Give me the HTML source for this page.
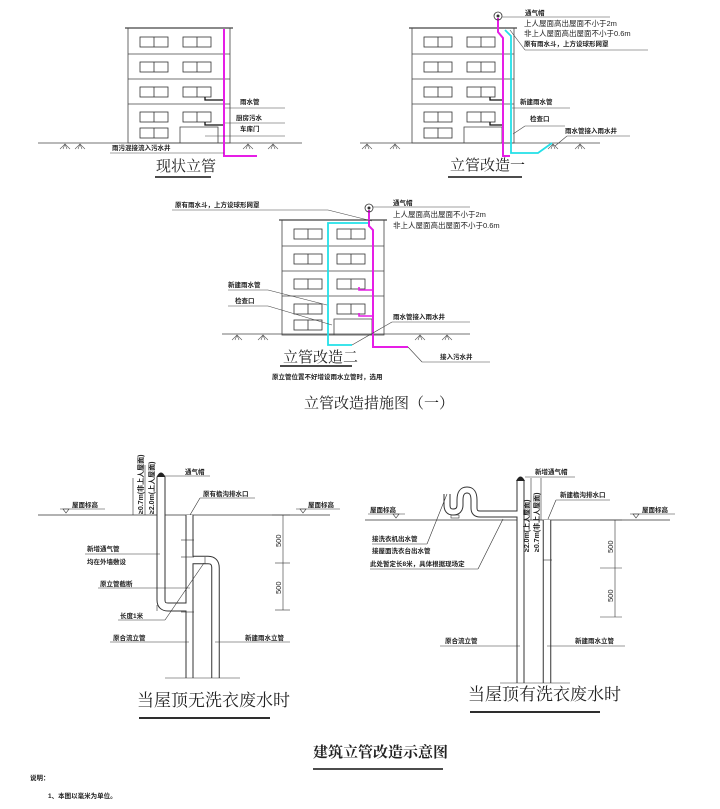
<!DOCTYPE html>
<html><head><meta charset="utf-8"><style>
body{margin:0;background:#fff}
svg{display:block}
text{font-family:"Liberation Sans","Noto Sans CJK SC",sans-serif;fill:#222}
.s{font-size:6.5px;font-weight:bold}
.m{font-size:7.5px}
.t{font-family:"Liberation Serif","Noto Serif CJK SC",serif;font-size:15px}
</style></head><body>
<svg width="720" height="809" viewBox="0 0 720 809" xmlns="http://www.w3.org/2000/svg">
<defs>
<g id="win"><rect x="0" y="0" width="28" height="10" fill="none" stroke="#333" stroke-width="0.8"/><line x1="14" y1="0" x2="14" y2="10" stroke="#333" stroke-width="0.8"/></g>
<g id="bld" fill="none" stroke="#444" stroke-width="0.8">
<line x1="-3" y1="0" x2="105" y2="0" stroke-width="1.2"/>
<rect x="0" y="0" width="102" height="115"/>
<line x1="0" y1="26" x2="102" y2="26"/><line x1="0" y1="51" x2="102" y2="51"/><line x1="0" y1="76" x2="102" y2="76"/>
<use href="#win" x="12" y="9"/><use href="#win" x="55" y="9"/>
<use href="#win" x="12" y="34"/><use href="#win" x="55" y="34"/>
<use href="#win" x="12" y="59"/><use href="#win" x="55" y="59"/>
<use href="#win" x="12" y="84"/><use href="#win" x="55" y="84"/>
<use href="#win" x="12" y="100"/>
<polyline points="52,115 52,99 90,99 90,115"/>
</g>
<g id="grass" stroke="#555" stroke-width="0.6" fill="none"><path d="M0 5 L5 0 L10 5 M3 5 L5 0 L7 5"/></g>
</defs>

<!-- Building 1 -->
<use href="#bld" x="128" y="28"/>
<line x1="38" y1="143" x2="302" y2="143" stroke="#444" stroke-width="0.8"/>
<use href="#grass" x="60" y="144"/><use href="#grass" x="75" y="144"/><use href="#grass" x="243" y="144"/><use href="#grass" x="268" y="144"/>
<polyline points="205,97 205,100 224,100" fill="none" stroke="#111" stroke-width="1.3"/>
<polyline points="205,122 205,125 224,125" fill="none" stroke="#111" stroke-width="1.3"/>
<polyline points="224,29 224,156 257,156" fill="none" stroke="#e61ee6" stroke-width="2"/>
<g stroke="#444" stroke-width="0.6"><line x1="225" y1="108" x2="285" y2="108"/><line x1="225" y1="123" x2="285" y2="123"/><line x1="205" y1="136" x2="285" y2="136"/><line x1="110" y1="153" x2="224" y2="153"/></g>
<text class="s" x="240" y="104">雨水管</text>
<text class="s" x="236" y="120">厨房污水</text>
<text class="s" x="240" y="131">车库门</text>
<text class="s" x="112" y="150">雨污混接流入污水井</text>
<text class="t" x="156" y="171">现状立管</text>
<line x1="155" y1="177" x2="211" y2="177" stroke="#111" stroke-width="1.6"/>

<!-- Building 2 -->
<use href="#bld" x="412" y="28"/>
<line x1="360" y1="143" x2="600" y2="143" stroke="#444" stroke-width="0.8"/>
<use href="#grass" x="362" y="144"/><use href="#grass" x="390" y="144"/><use href="#grass" x="548" y="144"/><use href="#grass" x="575" y="144"/>
<polyline points="490,97 490,100 503,100" fill="none" stroke="#111" stroke-width="1.3"/>
<polyline points="490,122 490,125 503,125" fill="none" stroke="#111" stroke-width="1.3"/>
<polyline points="505,30 511,36 511,153 538,153 552,143" fill="none" stroke="#22e0e8" stroke-width="1.8"/>
<polyline points="498,18 498,32 503,38 503,156 510,156" fill="none" stroke="#e61ee6" stroke-width="2"/>
<circle cx="498" cy="16" r="4" fill="none" stroke="#333" stroke-width="0.8"/><circle cx="498" cy="16" r="1.5" fill="#333"/>
<g stroke="#444" stroke-width="0.6"><line x1="502" y1="17" x2="610" y2="17"/><line x1="510" y1="30" x2="525" y2="50"/><line x1="525" y1="50" x2="648" y2="50"/><line x1="512" y1="108" x2="570" y2="108"/><line x1="513" y1="134" x2="525" y2="126"/><line x1="525" y1="126" x2="565" y2="126"/><line x1="555" y1="146" x2="567" y2="136"/><line x1="567" y1="136" x2="630" y2="136"/></g>
<text class="s" x="525" y="15">通气帽</text>
<text class="m" x="524" y="26">上人屋面高出屋面不小于2m</text>
<text class="m" x="524" y="36">非上人屋面高出屋面不小于0.6m</text>
<text class="s" x="524" y="46">原有雨水斗，上方设球形网罩</text>
<text class="s" x="520" y="104">新建雨水管</text>
<text class="s" x="530" y="121">检查口</text>
<text class="s" x="565" y="133">雨水管接入雨水井</text>
<text class="t" x="450" y="170">立管改造一</text>
<line x1="448" y1="177" x2="522" y2="177" stroke="#111" stroke-width="1.6"/>

<!-- Building 3 -->
<use href="#bld" x="282" y="220"/>
<line x1="222" y1="334" x2="470" y2="334" stroke="#444" stroke-width="0.8"/>
<use href="#grass" x="232" y="335"/><use href="#grass" x="258" y="335"/><use href="#grass" x="415" y="335"/><use href="#grass" x="442" y="335"/>
<polyline points="370,223 328,223 328,345 352,345" fill="none" stroke="#22e0e8" stroke-width="1.8"/>
<polyline points="369,210 369,226 373,230 373,347 408,347" fill="none" stroke="#e61ee6" stroke-width="2"/>
<polyline points="359,287 359,290 373,290" fill="none" stroke="#e61ee6" stroke-width="1.6"/>
<polyline points="359,313 359,316 373,316" fill="none" stroke="#e61ee6" stroke-width="1.6"/>
<circle cx="369" cy="208" r="4" fill="none" stroke="#333" stroke-width="0.8"/><circle cx="369" cy="208" r="1.5" fill="#333"/>
<g stroke="#444" stroke-width="0.6"><line x1="172" y1="210" x2="328" y2="210"/><line x1="328" y1="210" x2="372" y2="221"/><line x1="373" y1="207" x2="470" y2="207"/><line x1="228" y1="290" x2="268" y2="290"/><line x1="268" y1="290" x2="327" y2="305"/><line x1="228" y1="306" x2="268" y2="306"/><line x1="268" y1="306" x2="332" y2="325"/><line x1="352" y1="345" x2="392" y2="322"/><line x1="392" y1="322" x2="470" y2="322"/><line x1="408" y1="347" x2="422" y2="362"/><line x1="422" y1="362" x2="490" y2="362"/></g>
<text class="s" x="175" y="207">原有雨水斗，上方设球形网罩</text>
<text class="s" x="393" y="205">通气帽</text>
<text class="m" x="393" y="217">上人屋面高出屋面不小于2m</text>
<text class="m" x="393" y="228">非上人屋面高出屋面不小于0.6m</text>
<text class="s" x="228" y="287">新建雨水管</text>
<text class="s" x="235" y="303">检查口</text>
<text class="s" x="393" y="319">雨水管接入雨水井</text>
<text class="s" x="440" y="359">接入污水井</text>
<text class="t" x="283" y="362">立管改造二</text>
<line x1="280" y1="366" x2="352" y2="366" stroke="#111" stroke-width="1.6"/>
<text class="s" x="272" y="379">原立管位置不好增设雨水立管时，选用</text>
<text class="t" x="304" y="408">立管改造措施图（一）</text>

<!-- Bottom left -->
<line x1="38" y1="515" x2="330" y2="515" stroke="#333" stroke-width="0.8"/>
<path d="M63 509 L69 509 L66 513 Z" fill="none" stroke="#333" stroke-width="0.6"/>
<line x1="60" y1="509" x2="105" y2="509" stroke="#333" stroke-width="0.5"/>
<text class="s" x="72" y="507">屋面标高</text>
<path d="M300 509 L306 509 L303 513 Z" fill="none" stroke="#333" stroke-width="0.6"/>
<line x1="296" y1="509" x2="340" y2="509" stroke="#333" stroke-width="0.5"/>
<text class="s" x="308" y="507">屋面标高</text>
<g fill="none" stroke-linecap="butt">
<path d="M161 477 V600 Q161 607 168 607 H189.5" stroke="#333" stroke-width="9"/>
<path d="M189.5 515 V678" stroke="#333" stroke-width="8"/>
<path d="M189.5 560 H208 Q215.5 560 215.5 568 V678" stroke="#333" stroke-width="8.5"/>
<path d="M161 477 V600 Q161 607 168 607 H189.5" stroke="#fff" stroke-width="7"/>
<path d="M189.5 515 V678" stroke="#fff" stroke-width="6"/>
<path d="M189.5 560 H208 Q215.5 560 215.5 568 V678" stroke="#fff" stroke-width="6.5"/>
</g>
<path d="M156.5 477 Q161 468 165.5 477 Z" fill="#222"/>
<g stroke="#333" stroke-width="0.6">
<line x1="181" y1="540" x2="194" y2="540"/><line x1="181" y1="557" x2="194" y2="557"/><line x1="181" y1="612" x2="194" y2="612"/>
<line x1="157" y1="605" x2="157" y2="611"/><line x1="205" y1="557" x2="205" y2="564"/>
<line x1="145" y1="465" x2="145" y2="515"/><line x1="133" y1="478" x2="133" y2="515"/>
<line x1="283" y1="515" x2="283" y2="610"/><line x1="272" y1="515" x2="290" y2="515"/><line x1="275" y1="563" x2="290" y2="563"/><line x1="275" y1="610" x2="290" y2="610"/>
<line x1="163" y1="476" x2="210" y2="476"/>
<line x1="190" y1="515" x2="200" y2="498"/><line x1="200" y1="498" x2="255" y2="498"/>
<line x1="85" y1="554" x2="160" y2="554"/>
<line x1="98" y1="588" x2="190" y2="588"/>
<line x1="118" y1="620" x2="165" y2="620"/><line x1="165" y1="620" x2="204" y2="563"/>
<line x1="110" y1="642" x2="189" y2="642"/>
<line x1="215" y1="642" x2="290" y2="642"/>
<line x1="165" y1="678" x2="240" y2="678"/>
</g>
<text class="s" x="185" y="474">通气帽</text>
<text class="s" x="203" y="496">原有檐沟排水口</text>
<text class="s" x="87" y="551">新增通气管</text>
<text class="s" x="87" y="564">均在外墙敷设</text>
<text class="s" x="100" y="586">原立管截断</text>
<text class="s" x="120" y="618">长度1米</text>
<text class="s" x="113" y="640">原合流立管</text>
<text class="s" x="245" y="640">新建雨水立管</text>
<text class="m" transform="translate(281,547) rotate(-90)">500</text>
<text class="m" transform="translate(281,594) rotate(-90)">500</text>
<text class="s" transform="translate(143,514) rotate(-90)" style="font-size:7px">≥0.7m(非上人屋面)</text>
<text class="s" transform="translate(154,514) rotate(-90)" style="font-size:7px">≥2.0m(上人屋面)</text>
<text class="t" x="137" y="706" style="font-size:17px">当屋顶无洗衣废水时</text>
<line x1="139" y1="718" x2="270" y2="718" stroke="#111" stroke-width="1.8"/>

<!-- Bottom right -->
<line x1="365" y1="520" x2="670" y2="520" stroke="#333" stroke-width="0.8"/>
<path d="M393 514 L399 514 L396 518 Z" fill="none" stroke="#333" stroke-width="0.6"/>
<line x1="368" y1="514" x2="405" y2="514" stroke="#333" stroke-width="0.5"/>
<text class="s" x="370" y="512">屋面标高</text>
<path d="M633 514 L639 514 L636 518 Z" fill="none" stroke="#333" stroke-width="0.6"/>
<line x1="630" y1="514" x2="675" y2="514" stroke="#333" stroke-width="0.5"/>
<text class="s" x="642" y="512">屋面标高</text>
<g fill="none">
<path d="M447 494 V505 Q447 512 453 512 Q460 512 460 505 V500 Q460 490 467 490 Q474 490 474 500 V508 Q474 514 480 514 H520.5" stroke="#333" stroke-width="7"/>
<path d="M520.5 480 V683" stroke="#333" stroke-width="8"/>
<path d="M547 520 V683" stroke="#333" stroke-width="8.5"/>
<path d="M447 494 V505 Q447 512 453 512 Q460 512 460 505 V500 Q460 490 467 490 Q474 490 474 500 V508 Q474 514 480 514 H520.5" stroke="#fff" stroke-width="5"/>
<path d="M520.5 480 V683" stroke="#fff" stroke-width="6"/>
<path d="M547 520 V683" stroke="#fff" stroke-width="6.5"/>
</g>
<path d="M516 481 Q520.5 472 525 481 Z" fill="#222"/>
<rect x="451" y="515" width="8" height="3" fill="none" stroke="#333" stroke-width="0.6"/>
<g stroke="#333" stroke-width="0.6">
<line x1="543" y1="560" x2="552" y2="560"/>
<line x1="531" y1="478" x2="531" y2="520"/><line x1="541" y1="478" x2="541" y2="520"/>
<line x1="615" y1="520" x2="615" y2="617"/><line x1="600" y1="520" x2="622" y2="520"/><line x1="600" y1="568" x2="622" y2="568"/><line x1="600" y1="617" x2="622" y2="617"/>
<line x1="525" y1="477" x2="575" y2="477"/>
<line x1="548" y1="519" x2="556" y2="500"/><line x1="556" y1="500" x2="610" y2="500"/>
<line x1="372" y1="544" x2="427" y2="544"/><line x1="427" y1="544" x2="447" y2="494"/>
<line x1="370" y1="569" x2="478" y2="569"/><line x1="478" y1="569" x2="503" y2="519"/>
<line x1="440" y1="646" x2="520" y2="646"/>
<line x1="547" y1="646" x2="625" y2="646"/>
<line x1="500" y1="683" x2="570" y2="683"/>
</g>
<text class="s" x="535" y="474">新增通气帽</text>
<text class="s" x="560" y="497">新建檐沟排水口</text>
<text class="s" x="372" y="541">接洗衣机出水管</text>
<text class="s" x="372" y="553">接屋面洗衣台出水管</text>
<text class="s" x="370" y="566">此处暂定长8米，具体根据现场定</text>
<text class="s" x="445" y="643">原合流立管</text>
<text class="s" x="575" y="643">新建雨水立管</text>
<text class="m" transform="translate(613,553) rotate(-90)">500</text>
<text class="m" transform="translate(613,602) rotate(-90)">500</text>
<text class="s" transform="translate(529,552) rotate(-90)" style="font-size:7px">≥2.0m(上人屋面)</text>
<text class="s" transform="translate(539,552) rotate(-90)" style="font-size:7px">≥0.7m(非上人屋面)</text>
<text class="t" x="468" y="700" style="font-size:17px">当屋顶有洗衣废水时</text>
<line x1="470" y1="712" x2="600" y2="712" stroke="#111" stroke-width="1.8"/>

<text class="t" x="313" y="757" style="font-weight:bold">建筑立管改造示意图</text>
<line x1="313" y1="769" x2="443" y2="769" stroke="#111" stroke-width="1.6"/>
<text class="s" x="30" y="780">说明：</text>
<text class="s" x="48" y="798">1、本图以毫米为单位。</text>
</svg>
</body></html>
